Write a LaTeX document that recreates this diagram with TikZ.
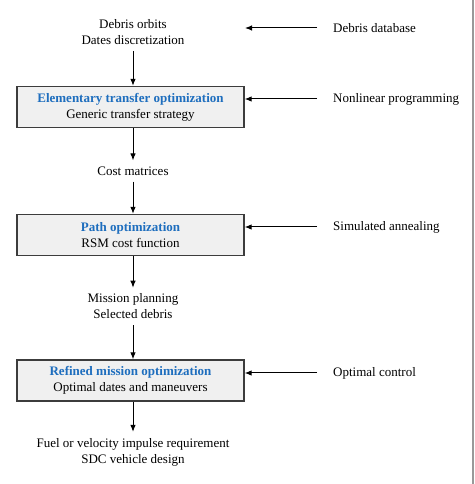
\documentclass[tikz,border=0pt]{standalone}
\usepackage{fontspec}
\setmainfont{Liberation Serif}
\usetikzlibrary{arrows.meta}
\definecolor{boxblue}{RGB}{30,110,190}
\definecolor{boxfill}{RGB}{240,240,240}
\definecolor{boxline}{RGB}{60,60,60}
\tikzset{
  x=1pt,y=1pt,
  every node/.style={font=\fontsize{13}{16}\selectfont},
  procbox/.style={draw=boxline,line width=1.3pt,fill=boxfill,minimum width=227pt,minimum height=41pt,inner sep=2pt,align=center},
  flowtxt/.style={align=center,inner xsep=2pt,inner ysep=6pt},
  sidetxt/.style={anchor=west,inner sep=0pt},
  flowarrow/.style={line width=1pt,-{Latex[length=7pt,width=5.5pt]}},
  boxtitle/.style={text=boxblue,font=\fontsize{13}{16}\selectfont\bfseries}
}
\begin{document}
\begin{tikzpicture}
\useasboundingbox (0,0) rectangle (474,484);
\draw[line width=1.5pt,color=black!40] (473,0) -- (473,484);

\node[flowtxt] (in) at (133,452) {Debris orbits\\Dates discretization};
\node[procbox] (b1) at (130.5,377) {{\color{boxblue}\bfseries Elementary transfer optimization}\\Generic transfer strategy};
\node[flowtxt] (cm) at (133,313) {Cost matrices};
\node[procbox] (b2) at (130.5,249) {{\color{boxblue}\bfseries Path optimization}\\RSM cost function};
\node[flowtxt] (mp) at (133,177.5) {Mission planning\\Selected debris};
\node[procbox] (b3) at (130.5,103.5) {{\color{boxblue}\bfseries Refined mission optimization}\\Optimal dates and maneuvers};
\node[flowtxt] (out) at (133,32) {Fuel or velocity impulse requirement\\SDC vehicle design};

\node[sidetxt] (db) at (333,456) {Debris database};
\node[sidetxt] (nl) at (333,385) {Nonlinear programming};
\node[sidetxt] (sa) at (333,257) {Simulated annealing};
\node[sidetxt] (oc) at (333,111) {Optimal control};

\coordinate (dbend) at (245,456);

\draw[flowarrow] (in.south) -- (b1.north -| in);
\draw[flowarrow] (b1.south -| cm) -- (cm.north);
\draw[flowarrow] (cm.south) -- (b2.north -| cm);
\draw[flowarrow] (b2.south -| mp) -- (mp.north);
\draw[flowarrow] (mp.south) -- (b3.north -| mp);
\draw[flowarrow] (b3.south -| out) -- (out.north);

\draw[flowarrow] ([xshift=-16pt]db.west) -- (dbend);
\draw[flowarrow] ([xshift=-16pt]nl.west) -- ([yshift=8pt]b1.east);
\draw[flowarrow] ([xshift=-16pt]sa.west) -- ([yshift=8pt]b2.east);
\draw[flowarrow] ([xshift=-16pt]oc.west) -- ([yshift=7.5pt]b3.east);
\end{tikzpicture}
\end{document}
